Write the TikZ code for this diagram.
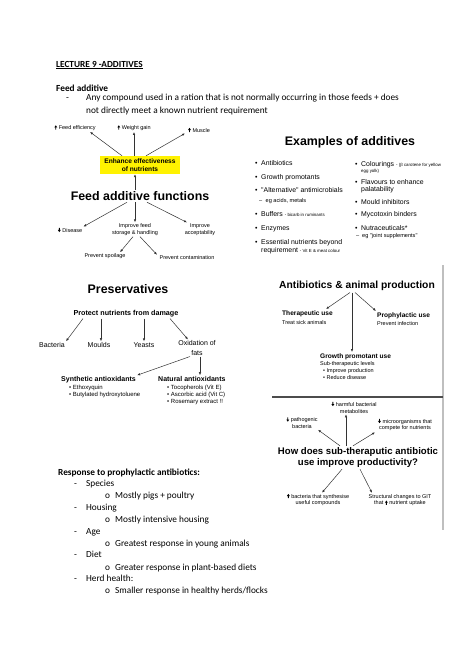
\documentclass[tikz,border=0pt]{standalone}
\usepackage{fontspec}
\setmainfont{Carlito}
\newfontfamily\arialfont{Liberation Sans}
\usepackage{tikz}
\usetikzlibrary{arrows.meta, positioning}
\newcommand{\upa}{\tikz[baseline=0pt, x=1pt, y=1pt]\fill (-0.45,0) -- (-0.45,2.1) -- (-1.5,2.1) -- (0,4.3) -- (1.5,2.1) -- (0.45,2.1) -- (0.45,0) -- cycle;}
\newcommand{\dna}{\tikz[baseline=0pt, x=1pt, y=1pt]\fill (-0.45,4.3) -- (-0.45,2.2) -- (-1.5,2.2) -- (0,0) -- (1.5,2.2) -- (0.45,2.2) -- (0.45,4.3) -- cycle;}
\newcommand{\notefont}{\fontsize{4.4}{5}\selectfont}

\begin{document}
\begin{tikzpicture}[x=1pt, y=-1pt,
  lect/.style={inner sep=0pt, anchor=base west, font=\fontsize{9.3}{11}\selectfont},
  bigtitle/.style={inner sep=1.5pt, font=\arialfont\bfseries\fontsize{12.4}{14}\selectfont},
  midtitle/.style={inner sep=1.5pt, font=\arialfont\bfseries\fontsize{10.3}{12}\selectfont},
  qtitle/.style={inner sep=1.5pt, align=center, font=\arialfont\bfseries\fontsize{9.6}{11}\selectfont},
  hlbox/.style={fill=yellow, inner sep=0pt, minimum width=80pt, minimum height=18pt,
                align=center, font=\arialfont\bfseries\fontsize{6.6}{7.8}\selectfont},
  lbl/.style={inner sep=1pt, align=center, font=\arialfont\fontsize{5.5}{6.8}\selectfont},
  midlbl/.style={inner sep=1pt, align=center, font=\arialfont\fontsize{7}{9.5}\selectfont},
  subhead/.style={inner sep=1pt, font=\arialfont\bfseries\fontsize{7.2}{9}\selectfont},
  itemtxt/.style={inner sep=0pt, anchor=base west, font=\arialfont\fontsize{6.9}{8}\selectfont},
  subtxt/.style={inner sep=0pt, anchor=base west, font=\arialfont\fontsize{5.6}{7}\selectfont},
  smalltxt/.style={inner sep=0pt, anchor=base west, font=\arialfont\fontsize{6}{7}\selectfont},
  tinytxt/.style={inner sep=0pt, anchor=base west, font=\arialfont\fontsize{5.5}{7}\selectfont},
  boldtxt/.style={inner sep=1pt, anchor=base west, font=\arialfont\bfseries\fontsize{7}{8}\selectfont},
  arr/.style={-{Latex[length=3pt, width=2.4pt]}, line width=0.5pt, draw=black!80}
]
\fill[white] (0,0) rectangle (474,670);
\useasboundingbox (0,0) rectangle (474,670);

% lecture header
\node[lect] (lecttitle) at (56,67) {\textbf{\underline{LECTURE 9 -ADDITIVES}}};
\node[lect] (fahead) at (56,91) {\textbf{Feed additive}};
\node[lect] (defline1) at (66,100) {\makebox[20pt][l]{-}Any compound used in a ration that is not normally occurring in those feeds + does};
\node[lect] (defline2) at (86,113) {not directly meet a known nutrient requirement};

% feed additive functions
\node[lbl] (feff) at (75,128) {\upa\ Feed efficiency};
\node[lbl] (wgain) at (134,128) {\upa\ Weight gain};
\node[lbl] (muscle) at (199,130) {\upa\ Muscle};
\node[hlbox] (enh) at (140,165) {Enhance effectiveness\\of nutrients};
\node[bigtitle] (fafun) at (140,196) {Feed additive functions};
\node[lbl] (disease) at (70,230) {\dna\ Disease};
\node[lbl] (storage) at (135,229.5) {Improve feed\\storage \& handling};
\node[lbl] (accept) at (200,229.5) {Improve\\acceptability};
\node[lbl] (spoil) at (105,256) {Prevent spoilage};
\node[lbl] (contam) at (187,258) {Prevent contamination};

\draw[arr] ([xshift=-18pt]enh.north) -- ([xshift=15pt]feff.south);
\draw[arr] ([xshift=-6pt]enh.north) -- (wgain.south);
\draw[arr] ([xshift=6pt]enh.north) -- ([xshift=-14pt]muscle.south);
\draw[arr] ([xshift=-5pt]fafun.north) -- ([xshift=-5pt]enh.south);
\draw[arr] ([xshift=-13pt]fafun.south) -- (disease.north east);
\draw[arr] ([xshift=-5pt]fafun.south) -- (storage.north);
\draw[arr] ([xshift=7pt]fafun.south) -- ([xshift=-13pt]accept.north);
\draw[arr] ([xshift=-2pt]storage.south) -- ([xshift=15pt]spoil.north);
\draw[arr] ([xshift=5pt]storage.south) -- ([xshift=-30pt]contam.north);

% examples of additives
\node[bigtitle] (extitle) at (350,142) {Examples of additives};
\node[itemtxt] (antib) at (255,165.5) {\makebox[6pt][l]{•}Antibiotics};
\node[itemtxt] (growth) at (255,179) {\makebox[6pt][l]{•}Growth promotants};
\node[itemtxt] (altern) at (255,192.5) {\makebox[6pt][l]{•}"Alternative" antimicrobials};
\node[subtxt] (acids) at (259,202) {\makebox[6.5pt][l]{–}eg acids, metals};
\node[itemtxt] (buffers) at (255,216.5) {\makebox[6pt][l]{•}Buffers {\notefont - bicarb in ruminants}};
\node[itemtxt] (enzymes) at (255,230.5) {\makebox[6pt][l]{•}Enzymes};
\node[itemtxt] (essent) at (255,244.5) {\makebox[6pt][l]{•}Essential nutrients beyond};
\node[itemtxt] (requir) at (261,252) {requirement {\notefont - Vit E \& meat colour}};
\node[itemtxt] (colour) at (355,166) {\makebox[6pt][l]{•}Colourings {\notefont - (β carotene for yellow}};
\node[itemtxt, font=\arialfont\notefont] (eggyolk) at (361,172.5) {egg yolk)};
\node[itemtxt] (flavour) at (355,184.5) {\makebox[6pt][l]{•}Flavours to enhance};
\node[itemtxt] (palat) at (361,191.5) {palatability};
\node[itemtxt] (mould) at (355,204.5) {\makebox[6pt][l]{•}Mould inhibitors};
\node[itemtxt] (mycotox) at (355,216.5) {\makebox[6pt][l]{•}Mycotoxin binders};
\node[itemtxt] (nutrac) at (355,230.5) {\makebox[6pt][l]{•}Nutraceuticals*};
\node[subtxt] (joint) at (356,237.5) {\makebox[6pt][l]{–}eg "joint supplements"};

% preservatives
\node[bigtitle] (prestitle) at (128,289) {Preservatives};
\node[subhead] (protect) at (126,314) {Protect nutrients from damage};
\node[midlbl] (bact) at (52,345) {Bacteria};
\node[midlbl] (moulds) at (99,345) {Moulds};
\node[midlbl] (yeast) at (144,345) {Yeasts};
\node[midlbl] (oxid) at (197,348) {Oxidation of\\fats};
\node[boldtxt] (synth) at (60,381.5) {Synthetic antioxidants};
\node[smalltxt] (ethoxy) at (69,389) {• Ethoxyquin};
\node[smalltxt] (butyl) at (69,396) {• Butylated hydroxytoluene};
\node[boldtxt] (natural) at (157,381.5) {Natural antioxidants};
\node[smalltxt] (tocoph) at (167,389) {• Tocopherols (Vit E)};
\node[smalltxt] (ascorb) at (167,396) {• Ascorbic acid (Vit C)};
\node[smalltxt] (rosem) at (167,403) {• Rosemary extract !!};

\draw[arr] ([xshift=-43pt]protect.south) -- (bact.north east);
\draw[arr] ([xshift=-25pt]protect.south) -- ([xshift=2pt]moulds.north);
\draw[arr] ([xshift=18pt]protect.south) -- (yeast.north);
\draw[arr] ([xshift=44pt]protect.south) -- ([xshift=-9pt]oxid.north);
\draw[arr] ([xshift=-7pt]oxid.south) -- (synth.north east);
\draw[arr] ([xshift=3pt]oxid.south) -- ([xshift=3pt]oxid.south |- natural.north);

% antibiotics & animal production
\node[midtitle] (abtitle) at (357,286) {Antibiotics \& animal production};
\node[boldtxt, font=\arialfont\bfseries\fontsize{6.6}{8}\selectfont] (therap) at (281,315) {Therapeutic use};
\node[tinytxt] (treat) at (282,324) {Treat sick animals};
\node[boldtxt, font=\arialfont\bfseries\fontsize{6.6}{8}\selectfont] (proph) at (376,317) {Prophylactic use};
\node[tinytxt] (previnf) at (377,325.5) {Prevent infection};
\node[boldtxt, font=\arialfont\bfseries\fontsize{6.6}{8}\selectfont] (gpuse) at (319,358) {Growth promotant use};
\node[tinytxt] (subther) at (320,365.5) {Sub-therapeutic levels};
\node[tinytxt] (improve) at (323,372.5) {• Improve production};
\node[tinytxt] (reduce) at (323,379.5) {• Reduce disease};

\draw[arr] ([xshift=-7pt]abtitle.south) -- ([xshift=-8pt]therap.north east);
\draw[arr] ([xshift=-5pt]abtitle.south) -- ([xshift=-5pt]abtitle.south |- gpuse.north);
\draw[arr] ([xshift=-2pt]abtitle.south) -- (proph.north west);

\draw[black!25, line width=1.2pt] (443,265) -- (443,530);
\draw[black!70, line width=2.2pt] (272,397) -- (443,397);

% sub-therapeutic use
\node[qtitle] (howq) at (358,457.5) {How does sub-theraputic antibiotic\\use improve productivity?};
\node[lbl] (harm) at (354,407.5) {\dna\ harmful bacterial\\metabolites};
\node[lbl] (patho) at (302,423) {\dna\ pathogenic\\bacteria};
\node[lbl] (micro) at (405,425) {\dna\ microorganisms that\\compete for nutrients};
\node[lbl] (synbact) at (318,500) {\upa\ bacteria that synthesise\\useful compounds};
\node[lbl] (struct) at (400,500) {Structural changes to GIT\\that \upa\ nutrient uptake};

\draw[arr] ([xshift=-18pt]howq.north) -- ([xshift=16pt]patho.south);
\draw[arr] ([xshift=-12pt]howq.north) -- ([xshift=-12pt]howq.north |- harm.south);
\draw[arr] ([xshift=-5pt]howq.north) -- ([xshift=-30pt]micro.south);
\draw[arr] ([xshift=-16pt]howq.south) -- ([xshift=4pt]synbact.north);
\draw[arr] ([xshift=2pt]howq.south) -- ([xshift=-28pt]struct.north);

% response to prophylactic antibiotics
\node[lect] (resphead) at (58,475) {\textbf{Response to prophylactic antibiotics:}};
\node[lect] (species) at (74,486) {\makebox[12pt][l]{-}Species};
\node[lect] (pigs) at (105,498) {\makebox[10pt][l]{o}Mostly pigs + poultry};
\node[lect] (housing) at (74,510) {\makebox[12pt][l]{-}Housing};
\node[lect] (intens) at (105,522) {\makebox[10pt][l]{o}Mostly intensive housing};
\node[lect] (age) at (74,534) {\makebox[12pt][l]{-}Age};
\node[lect] (young) at (105,546) {\makebox[10pt][l]{o}Greatest response in young animals};
\node[lect] (diet) at (74,557) {\makebox[12pt][l]{-}Diet};
\node[lect] (plant) at (105,570) {\makebox[10pt][l]{o}Greater response in plant-based diets};
\node[lect] (herd) at (74,581) {\makebox[12pt][l]{-}Herd health:};
\node[lect] (healthy) at (105,593) {\makebox[10pt][l]{o}Smaller response in healthy herds/flocks};
\end{tikzpicture}
\end{document}
